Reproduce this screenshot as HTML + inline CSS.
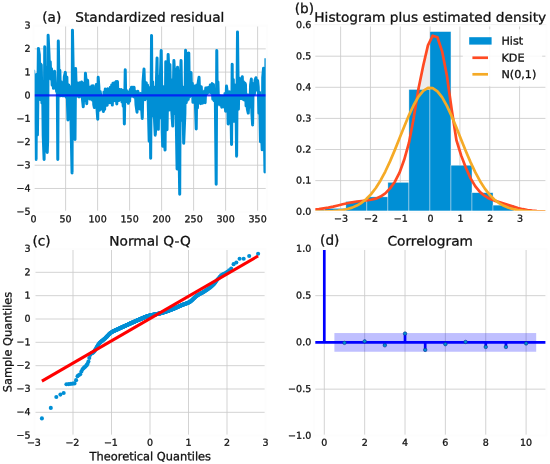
<!DOCTYPE html>
<html><head><meta charset="utf-8"><title>Diagnostics</title>
<style>html,body{margin:0;padding:0;background:#fff}svg{display:block}text{font-family:"DejaVu Sans", "Liberation Sans", sans-serif;fill:#111;stroke:#111;stroke-width:0.3px}</style>
</head><body>
<svg width="550" height="464" viewBox="0 0 550 464">
<rect width="550" height="464" fill="#fff"/>
<clipPath id="ca"><rect x="33.6" y="23.5" width="233.1" height="190.2"/></clipPath>
<path d="M65.6 25.5V211.7M97.6 25.5V211.7M129.6 25.5V211.7M161.6 25.5V211.7M193.6 25.5V211.7M225.6 25.5V211.7M257.6 25.5V211.7M33.6 188.48H266.7M33.6 165.21H266.7M33.6 141.94H266.7M33.6 118.67H266.7M33.6 95.4H266.7M33.6 72.13H266.7M33.6 48.86H266.7M33.6 25.59H266.7" stroke="#cbcbcb" stroke-width="0.85" fill="none"/>
<path d="M33.6 69.8 L34.24 118.67 L34.88 86.09 L35.52 123.32 L36.1 159.39 L36.54 74.46 L36.86 107.04 L37.12 76.78 L37.44 134.96 L38.4 48.39 L39.36 54.74 L40 99.41 L40.64 64.09 L41.28 65.14 L41.92 103.07 L42.56 81.91 L43.2 135.5 L44.1 159.39 L44.74 46.77 L45.63 150.55 L46.4 68.16 L47.23 152.41 L47.68 139.67 L48.13 35.36 L48.96 53.47 L49.6 70.13 L50.24 61.67 L50.88 79.12 L51.52 68.72 L52.16 85.26 L52.8 73.99 L53.44 88.32 L54.08 75.9 L54.59 71.2 L55.36 88.23 L56 84.01 L56.64 91.51 L57.28 84.33 L57.79 159.39 L58.3 40.95 L59.2 91.88 L59.84 70.32 L60.48 95.85 L61.12 81.67 L61.76 84.19 L62.4 95.76 L63.04 84.15 L63.68 95.87 L64.32 76.87 L65.34 72.36 L66.24 97.22 L66.88 77.06 L67.52 105.1 L67.97 120.07 L68.8 85.01 L69.44 106.23 L70.08 86.65 L70.72 104.59 L71.36 139.59 L72.06 172.89 L72.45 30.24 L73.28 75.55 L73.92 126.35 L74.56 72.41 L75.01 139.61 L75.58 68.41 L76.48 96.54 L77.12 82.8 L77.76 95.67 L78.4 85.75 L79.04 96.95 L79.68 82.83 L80.32 96.28 L80.96 84.11 L81.6 82.04 L82.24 97.16 L83.26 106.8 L84.16 82.98 L84.8 100.39 L85.44 73.29 L86.08 80.92 L86.72 103.78 L87.62 80.27 L88.64 98.35 L89.28 88.23 L89.92 99.1 L90.56 87.02 L91.2 99.15 L91.84 86.01 L92.48 100.21 L93.12 85.64 L93.76 104.7 L94.34 107.5 L95.04 87.66 L95.68 103.54 L96.32 84.48 L96.96 108.2 L97.73 119.14 L98.18 77.25 L98.88 86.75 L99.52 110.28 L100.16 91.5 L100.8 95.65 L101.44 109.1 L102.08 97.66 L102.72 107.27 L103.42 111.46 L104 91.89 L104.64 109.36 L105.28 89.07 L105.92 105.22 L106.56 90.81 L107.2 105.31 L107.84 88.7 L108.48 99.84 L109.12 89.51 L109.76 102.78 L110.4 87.15 L111.04 102.71 L111.68 85.07 L112.32 105.11 L112.96 83.33 L113.6 99.04 L114.24 82.94 L114.88 100.79 L115.52 82.75 L116.16 81.52 L116.8 104.05 L117.44 81.61 L118.08 98.98 L118.72 100.54 L119.36 89.55 L120 91.04 L120.64 99.59 L121.28 89.46 L121.92 101.9 L122.56 91.6 L123.2 106.22 L123.84 90.23 L124.35 124.02 L125.25 69.8 L125.76 101.65 L126.4 90.25 L127.04 100.24 L127.68 91.82 L128.32 103.37 L128.96 96.51 L129.6 101.12 L130.24 89.47 L130.88 96.35 L131.52 87.21 L132.16 94.8 L132.8 87.24 L133.44 96.56 L134.08 87.25 L134.72 97.32 L135.36 91.17 L136 104.7 L137.02 112.15 L137.92 91.31 L138.56 106.28 L139.2 94.62 L139.84 108.95 L140.48 93.4 L141.12 95.04 L141.76 110.25 L142.27 118.44 L143.04 81.59 L144 69.1 L144.96 99.71 L145.6 98.31 L146.24 82.63 L146.88 97.7 L147.52 85.05 L148.16 99.76 L149.18 141.24 L150.08 87.39 L150.66 158.23 L151.55 35.6 L152 116.04 L152.64 81.73 L153.28 115.15 L153.92 87.05 L154.56 120.85 L155.26 135.19 L155.84 125.42 L156.48 79.83 L157.06 57.94 L157.76 117.03 L158.34 129.37 L159.04 76.29 L159.68 117.92 L160.32 78.33 L161.22 50.49 L162.24 132.4 L162.69 146.13 L163.52 86.77 L164.16 136.55 L165.06 150.08 L165.76 61.66 L167.04 129.84 L168.13 54.44 L168.64 65.92 L169.28 109.9 L169.92 64.45 L170.56 102.52 L171.2 79.8 L171.84 112.29 L172.74 126.12 L173.89 60.5 L174.4 70.64 L175.04 113.71 L175.68 69 L176.32 122.95 L177.09 168.93 L177.54 67.24 L178.24 79.82 L178.88 140.21 L179.71 194.3 L180.16 86 L181.06 60.5 L182.08 120.29 L182.72 86.98 L183.68 143.34 L184.9 113.32 L185.6 50.26 L186.24 102.85 L186.82 55.38 L187.2 100.52 L187.58 53.51 L188.22 99.36 L188.8 53.05 L189.38 97.03 L190.4 95.04 L191.04 72.49 L191.68 95.79 L192.32 83.31 L192.96 102.33 L193.6 87.4 L194.24 101.87 L194.88 85.97 L195.52 107.86 L196.22 128.91 L196.8 84.89 L197.44 108.01 L198.08 83.55 L199.04 77.25 L200 103.13 L200.64 103.6 L201.28 86.79 L201.92 102.6 L202.56 103.06 L203.2 95.23 L203.84 100.88 L204.48 91.05 L205.12 102.73 L205.76 87.97 L206.4 88 L207.04 93.62 L207.68 87.69 L208.32 92.41 L208.96 87.32 L209.6 91.21 L210.24 85.09 L210.88 92.76 L211.52 85.9 L212.16 83.61 L212.8 99.23 L213.44 84.4 L214.08 100.79 L214.72 99.4 L215.36 102.24 L216.19 184.29 L216.77 50.49 L217.28 105.28 L217.92 81.81 L218.56 103.85 L219.2 103.58 L219.84 95.69 L220.48 105.05 L221.12 96.02 L221.76 107.15 L222.4 95.99 L223.04 105.07 L223.68 95.89 L224.32 107.21 L224.96 93.62 L225.6 111.14 L226.5 86.09 L227.52 94.37 L228.16 124.02 L228.8 118.48 L229.44 91.65 L230.08 122.22 L230.72 92.58 L231.55 144.5 L232.19 64.22 L232.64 116.59 L233.28 79.39 L233.92 121.14 L234.56 84.65 L235.2 118.2 L235.84 86.68 L236.61 156.13 L237.5 32.11 L238.4 109.17 L239.04 77.99 L239.68 96.53 L240.32 79.33 L240.96 98.58 L241.6 79.17 L242.3 76.78 L242.88 99.13 L243.52 81.8 L244.16 100.06 L244.8 82.88 L245.44 84.34 L246.08 106.04 L246.72 94.56 L247.36 109.17 L248.26 113.09 L249.28 94.8 L249.92 106.98 L250.56 84.99 L251.33 79.11 L251.84 112.61 L252.61 124.95 L253.12 83.71 L253.76 87.12 L254.4 94.25 L255.04 80.27 L255.94 77.71 L256.96 90.09 L257.6 80.54 L258.24 87.21 L258.88 113.2 L259.52 92.3 L260.48 141.71 L261.44 130.62 L262.21 149.85 L262.72 77.57 L263.55 68.17 L264 131.04 L264.32 130.31 L264.96 171.96 L265.92 58.17" stroke="#008fd5" stroke-width="3.0" fill="none" stroke-linejoin="round" clip-path="url(#ca)"/>
<path d="M33.6 95.4H266.7" stroke="#0000ff" stroke-opacity="0.72" stroke-width="2.3" fill="none"/>
<rect x="33.6" y="25.5" width="233.1" height="186.2" fill="none" stroke="#fdfdfd" stroke-width="2"/>
<text transform="translate(30.6 214.75) rotate(0.03)" font-size="9.5" text-anchor="end" >−5</text>
<text transform="translate(30.6 191.48) rotate(0.03)" font-size="9.5" text-anchor="end" >−4</text>
<text transform="translate(30.6 168.21) rotate(0.03)" font-size="9.5" text-anchor="end" >−3</text>
<text transform="translate(30.6 144.94) rotate(0.03)" font-size="9.5" text-anchor="end" >−2</text>
<text transform="translate(30.6 121.67) rotate(0.03)" font-size="9.5" text-anchor="end" >−1</text>
<text transform="translate(30.6 98.4) rotate(0.03)" font-size="9.5" text-anchor="end" >0</text>
<text transform="translate(30.6 75.13) rotate(0.03)" font-size="9.5" text-anchor="end" >1</text>
<text transform="translate(30.6 51.86) rotate(0.03)" font-size="9.5" text-anchor="end" >2</text>
<text transform="translate(30.6 28.59) rotate(0.03)" font-size="9.5" text-anchor="end" >3</text>
<text transform="translate(33.6 222.3) rotate(0.03)" font-size="9.5" text-anchor="middle" >0</text>
<text transform="translate(65.6 222.3) rotate(0.03)" font-size="9.5" text-anchor="middle" >50</text>
<text transform="translate(97.6 222.3) rotate(0.03)" font-size="9.5" text-anchor="middle" >100</text>
<text transform="translate(129.6 222.3) rotate(0.03)" font-size="9.5" text-anchor="middle" >150</text>
<text transform="translate(161.6 222.3) rotate(0.03)" font-size="9.5" text-anchor="middle" >200</text>
<text transform="translate(193.6 222.3) rotate(0.03)" font-size="9.5" text-anchor="middle" >250</text>
<text transform="translate(225.6 222.3) rotate(0.03)" font-size="9.5" text-anchor="middle" >300</text>
<text transform="translate(257.6 222.3) rotate(0.03)" font-size="9.5" text-anchor="middle" >350</text>
<text transform="translate(42.3 21.8) rotate(0.03)" font-size="13.6" text-anchor="start" >(a)</text>
<text transform="translate(149.8 21.8) rotate(0.03) scale(1.055 1)" font-size="13.0" text-anchor="middle" >Standardized residual</text>
<clipPath id="cb"><rect x="314.3" y="23.5" width="232.09999999999997" height="188.2"/></clipPath>
<path d="M340.61 25.5V211.7M370.44 25.5V211.7M400.27 25.5V211.7M430.1 25.5V211.7M459.93 25.5V211.7M489.76 25.5V211.7M519.59 25.5V211.7M314.3 211.7H546.4M314.3 180.6H546.4M314.3 149.5H546.4M314.3 118.4H546.4M314.3 87.3H546.4M314.3 56.2H546.4M314.3 25.1H546.4" stroke="#cbcbcb" stroke-width="0.85" fill="none"/>
<g clip-path="url(#cb)">
<path d="M418.17 89.48 L421.15 74.86 L424.13 60.86 L427.12 48.42 L429.95 41.27 L429.95 89.48Z" fill="#ececec"/>
<rect x="303.86" y="209.49" width="21.02" height="2.21" fill="#008fd5" stroke="#f0f0f0" stroke-width="0.4"/>
<rect x="324.87" y="208.37" width="21.02" height="3.33" fill="#008fd5" stroke="#f0f0f0" stroke-width="0.4"/>
<rect x="345.89" y="201.5" width="21.02" height="10.2" fill="#008fd5" stroke="#f0f0f0" stroke-width="0.4"/>
<rect x="366.91" y="196.9" width="21.02" height="14.8" fill="#008fd5" stroke="#f0f0f0" stroke-width="0.4"/>
<rect x="387.92" y="182.37" width="21.02" height="29.33" fill="#008fd5" stroke="#f0f0f0" stroke-width="0.4"/>
<rect x="408.94" y="89.48" width="21.02" height="122.22" fill="#008fd5" stroke="#f0f0f0" stroke-width="0.4"/>
<rect x="429.95" y="31.63" width="21.02" height="180.07" fill="#008fd5" stroke="#f0f0f0" stroke-width="0.4"/>
<rect x="450.97" y="165.21" width="21.02" height="46.49" fill="#008fd5" stroke="#f0f0f0" stroke-width="0.4"/>
<rect x="471.98" y="192.73" width="21.02" height="18.97" fill="#008fd5" stroke="#f0f0f0" stroke-width="0.4"/>
<rect x="493" y="205.11" width="21.02" height="6.59" fill="#008fd5" stroke="#f0f0f0" stroke-width="0.4"/>
<path d="M314.21 209.7 L318.95 209.11 L323.69 208.41 L328.43 207.61 L333.17 206.66 L337.91 205.48 L342.65 204.28 L347.39 203.24 L352.12 202.3 L356.86 201.52 L361.6 201.01 L366.34 200.53 L371.08 199.78 L375.82 198.67 L380.56 196.61 L385.3 193.43 L390.04 188.36 L394.78 181.95 L399.52 172.73 L404.26 159.56 L409 142.7 L413.74 117.64 L418.48 88.67 L423.21 65.69 L427.95 45.43 L432.69 35.7 L437.43 37.26 L442.17 51.57 L446.91 75.78 L451.65 109.3 L456.39 140.01 L461.13 155.39 L465.87 167.73 L470.61 178.41 L475.35 186.32 L480.09 192.09 L484.83 195.95 L489.57 198.75 L494.3 200.6 L499.04 202.06 L503.78 203.61 L508.52 205.13 L513.26 206.63 L518 208.08 L522.74 209.2 L527.48 210.1 L532.22 210.7 L536.96 211.12 L541.7 211.38 L546.44 211.55" stroke="#ff4a22" stroke-width="2.7" fill="none" stroke-linejoin="round"/>
<path d="M314.21 211.63 L318.95 211.58 L323.69 211.49 L328.43 211.33 L333.17 211.07 L337.91 210.65 L342.65 210.01 L347.39 209.04 L352.12 207.63 L356.86 205.61 L361.6 202.81 L366.34 199.06 L371.08 194.17 L375.82 188 L380.56 180.45 L385.3 171.53 L390.04 161.35 L394.78 150.15 L399.52 138.34 L404.26 126.45 L409 115.1 L413.74 104.96 L418.48 96.7 L423.21 90.89 L427.95 87.95 L432.69 88.1 L437.43 91.32 L442.17 97.38 L446.91 105.85 L451.65 116.13 L456.39 127.56 L461.13 139.47 L465.87 151.24 L470.61 162.36 L475.35 172.43 L480.09 181.23 L484.83 188.64 L489.57 194.69 L494.3 199.46 L499.04 203.12 L503.78 205.83 L508.52 207.78 L513.26 209.15 L518 210.09 L522.74 210.7 L527.48 211.1 L532.22 211.35 L536.96 211.5 L541.7 211.59 L546.44 211.64" stroke="#f5aa26" stroke-width="2.7" fill="none" stroke-linejoin="round"/>
</g>
<rect x="314.3" y="25.5" width="232.1" height="186.2" fill="none" stroke="#fdfdfd" stroke-width="2"/>
<rect x="462.8" y="29.3" width="79.4" height="56.9" rx="2" fill="#fff" fill-opacity="0.85"/>
<rect x="469.2" y="37.2" width="22.4" height="7.4" fill="#008fd5"/>
<path d="M472.4 57.75H488" stroke="#ff4a22" stroke-width="2.7"/>
<path d="M472.4 74.3H488" stroke="#f5aa26" stroke-width="2.7"/>
<text transform="translate(501.4 44.6) rotate(0.03) scale(1.04 1)" font-size="10.8" text-anchor="start" >Hist</text>
<text transform="translate(501.4 61.4) rotate(0.03) scale(1.04 1)" font-size="10.8" text-anchor="start" >KDE</text>
<text transform="translate(501.4 78.1) rotate(0.03) scale(1.04 1)" font-size="10.8" text-anchor="start" >N(0,1)</text>
<text transform="translate(311.2 214.7) rotate(0.03)" font-size="9.5" text-anchor="end" >0.0</text>
<text transform="translate(311.2 183.6) rotate(0.03)" font-size="9.5" text-anchor="end" >0.1</text>
<text transform="translate(311.2 152.5) rotate(0.03)" font-size="9.5" text-anchor="end" >0.2</text>
<text transform="translate(311.2 121.4) rotate(0.03)" font-size="9.5" text-anchor="end" >0.3</text>
<text transform="translate(311.2 90.3) rotate(0.03)" font-size="9.5" text-anchor="end" >0.4</text>
<text transform="translate(311.2 59.2) rotate(0.03)" font-size="9.5" text-anchor="end" >0.5</text>
<text transform="translate(311.2 28.1) rotate(0.03)" font-size="9.5" text-anchor="end" >0.6</text>
<text transform="translate(341.11 221.8) rotate(0.03)" font-size="9.5" text-anchor="middle" >−3</text>
<text transform="translate(370.94 221.8) rotate(0.03)" font-size="9.5" text-anchor="middle" >−2</text>
<text transform="translate(400.77 221.8) rotate(0.03)" font-size="9.5" text-anchor="middle" >−1</text>
<text transform="translate(430.6 221.8) rotate(0.03)" font-size="9.5" text-anchor="middle" >0</text>
<text transform="translate(460.43 221.8) rotate(0.03)" font-size="9.5" text-anchor="middle" >1</text>
<text transform="translate(490.26 221.8) rotate(0.03)" font-size="9.5" text-anchor="middle" >2</text>
<text transform="translate(520.09 221.8) rotate(0.03)" font-size="9.5" text-anchor="middle" >3</text>
<text transform="translate(294.7 12.9) rotate(0.03)" font-size="13.6" text-anchor="start" >(b)</text>
<text transform="translate(430.2 21.7) rotate(0.03) scale(1.055 1)" font-size="13.0" text-anchor="middle" >Histogram plus estimated density</text>
<path d="M73 249V435.6M111.5 249V435.6M150 249V435.6M188.5 249V435.6M227 249V435.6M34.5 412.32H265.6M34.5 388.99H265.6M34.5 365.66H265.6M34.5 342.33H265.6M34.5 319H265.6M34.5 295.67H265.6M34.5 272.34H265.6M34.5 249.01H265.6" stroke="#cbcbcb" stroke-width="0.85" fill="none"/>
<g fill="#008fd5">
<circle cx="41.9" cy="418.39" r="2.05"/>
<circle cx="50.8" cy="407.89" r="2.05"/>
<circle cx="56.32" cy="397.04" r="2.05"/>
<circle cx="60.4" cy="394.59" r="2.05"/>
<circle cx="63.67" cy="392.96" r="2.05"/>
<circle cx="66.41" cy="384.32" r="2.05"/>
<circle cx="68.79" cy="384.09" r="2.05"/>
<circle cx="70.89" cy="383.86" r="2.05"/>
<circle cx="72.78" cy="383.62" r="2.05"/>
<circle cx="74.5" cy="383.39" r="2.05"/>
<circle cx="76.08" cy="380.14" r="2.05"/>
<circle cx="77.55" cy="376.14" r="2.05"/>
<circle cx="78.91" cy="375.01" r="2.05"/>
<circle cx="80.2" cy="374.29" r="2.05"/>
<circle cx="81.41" cy="371.62" r="2.05"/>
<circle cx="82.55" cy="369.21" r="2.05"/>
<circle cx="83.64" cy="368.12" r="2.05"/>
<circle cx="84.68" cy="367.16" r="2.05"/>
<circle cx="85.67" cy="366.21" r="2.05"/>
<circle cx="86.63" cy="365.15" r="2.05"/>
<circle cx="87.54" cy="363.82" r="2.05"/>
<circle cx="88.42" cy="361.54" r="2.05"/>
<circle cx="89.27" cy="358.05" r="2.05"/>
<circle cx="90.09" cy="354.94" r="2.05"/>
<circle cx="90.89" cy="353.84" r="2.05"/>
<circle cx="91.66" cy="353.29" r="2.05"/>
<circle cx="92.41" cy="352.9" r="2.05"/>
<circle cx="93.13" cy="352.45" r="2.05"/>
<circle cx="93.84" cy="351.8" r="2.05"/>
<circle cx="94.53" cy="350.92" r="2.05"/>
<circle cx="95.2" cy="349.9" r="2.05"/>
<circle cx="95.85" cy="348.8" r="2.05"/>
<circle cx="96.49" cy="347.67" r="2.05"/>
<circle cx="97.12" cy="346.57" r="2.05"/>
<circle cx="97.73" cy="345.54" r="2.05"/>
<circle cx="98.33" cy="344.61" r="2.05"/>
<circle cx="98.91" cy="343.81" r="2.05"/>
<circle cx="99.49" cy="343.16" r="2.05"/>
<circle cx="100.05" cy="342.59" r="2.05"/>
<circle cx="100.61" cy="342.06" r="2.05"/>
<circle cx="101.15" cy="341.58" r="2.05"/>
<circle cx="101.68" cy="341.14" r="2.05"/>
<circle cx="102.21" cy="340.71" r="2.05"/>
<circle cx="102.72" cy="340.3" r="2.05"/>
<circle cx="103.23" cy="339.9" r="2.05"/>
<circle cx="103.73" cy="339.51" r="2.05"/>
<circle cx="104.22" cy="339.1" r="2.05"/>
<circle cx="104.71" cy="338.7" r="2.05"/>
<circle cx="105.18" cy="338.27" r="2.05"/>
<circle cx="105.65" cy="337.83" r="2.05"/>
<circle cx="106.12" cy="337.37" r="2.05"/>
<circle cx="106.57" cy="336.89" r="2.05"/>
<circle cx="107.03" cy="336.41" r="2.05"/>
<circle cx="107.47" cy="335.93" r="2.05"/>
<circle cx="107.91" cy="335.45" r="2.05"/>
<circle cx="108.35" cy="334.98" r="2.05"/>
<circle cx="108.78" cy="334.53" r="2.05"/>
<circle cx="109.2" cy="334.1" r="2.05"/>
<circle cx="109.62" cy="333.7" r="2.05"/>
<circle cx="110.04" cy="333.33" r="2.05"/>
<circle cx="110.45" cy="332.99" r="2.05"/>
<circle cx="110.85" cy="332.7" r="2.05"/>
<circle cx="111.25" cy="332.43" r="2.05"/>
<circle cx="111.65" cy="332.18" r="2.05"/>
<circle cx="112.04" cy="331.95" r="2.05"/>
<circle cx="112.43" cy="331.73" r="2.05"/>
<circle cx="112.82" cy="331.52" r="2.05"/>
<circle cx="113.2" cy="331.32" r="2.05"/>
<circle cx="113.58" cy="331.13" r="2.05"/>
<circle cx="113.95" cy="330.95" r="2.05"/>
<circle cx="114.32" cy="330.77" r="2.05"/>
<circle cx="114.69" cy="330.6" r="2.05"/>
<circle cx="115.06" cy="330.44" r="2.05"/>
<circle cx="115.42" cy="330.28" r="2.05"/>
<circle cx="115.78" cy="330.12" r="2.05"/>
<circle cx="116.13" cy="329.96" r="2.05"/>
<circle cx="116.49" cy="329.81" r="2.05"/>
<circle cx="116.84" cy="329.65" r="2.05"/>
<circle cx="117.18" cy="329.5" r="2.05"/>
<circle cx="117.53" cy="329.34" r="2.05"/>
<circle cx="117.87" cy="329.19" r="2.05"/>
<circle cx="118.21" cy="329.03" r="2.05"/>
<circle cx="118.55" cy="328.87" r="2.05"/>
<circle cx="118.88" cy="328.71" r="2.05"/>
<circle cx="119.22" cy="328.55" r="2.05"/>
<circle cx="119.55" cy="328.4" r="2.05"/>
<circle cx="119.87" cy="328.25" r="2.05"/>
<circle cx="120.2" cy="328.09" r="2.05"/>
<circle cx="120.52" cy="327.94" r="2.05"/>
<circle cx="120.84" cy="327.8" r="2.05"/>
<circle cx="121.16" cy="327.65" r="2.05"/>
<circle cx="121.48" cy="327.51" r="2.05"/>
<circle cx="121.8" cy="327.36" r="2.05"/>
<circle cx="122.11" cy="327.22" r="2.05"/>
<circle cx="122.42" cy="327.08" r="2.05"/>
<circle cx="122.73" cy="326.94" r="2.05"/>
<circle cx="123.04" cy="326.8" r="2.05"/>
<circle cx="123.35" cy="326.66" r="2.05"/>
<circle cx="123.65" cy="326.52" r="2.05"/>
<circle cx="123.96" cy="326.39" r="2.05"/>
<circle cx="124.26" cy="326.25" r="2.05"/>
<circle cx="124.56" cy="326.12" r="2.05"/>
<circle cx="124.86" cy="325.98" r="2.05"/>
<circle cx="125.15" cy="325.85" r="2.05"/>
<circle cx="125.45" cy="325.72" r="2.05"/>
<circle cx="125.74" cy="325.59" r="2.05"/>
<circle cx="126.04" cy="325.46" r="2.05"/>
<circle cx="126.33" cy="325.33" r="2.05"/>
<circle cx="126.62" cy="325.2" r="2.05"/>
<circle cx="126.91" cy="325.07" r="2.05"/>
<circle cx="127.19" cy="324.94" r="2.05"/>
<circle cx="127.48" cy="324.81" r="2.05"/>
<circle cx="127.77" cy="324.68" r="2.05"/>
<circle cx="128.05" cy="324.55" r="2.05"/>
<circle cx="128.33" cy="324.43" r="2.05"/>
<circle cx="128.61" cy="324.3" r="2.05"/>
<circle cx="128.89" cy="324.17" r="2.05"/>
<circle cx="129.17" cy="324.05" r="2.05"/>
<circle cx="129.45" cy="323.92" r="2.05"/>
<circle cx="129.73" cy="323.79" r="2.05"/>
<circle cx="130" cy="323.67" r="2.05"/>
<circle cx="130.28" cy="323.54" r="2.05"/>
<circle cx="130.55" cy="323.42" r="2.05"/>
<circle cx="130.83" cy="323.29" r="2.05"/>
<circle cx="131.1" cy="323.17" r="2.05"/>
<circle cx="131.37" cy="323.04" r="2.05"/>
<circle cx="131.64" cy="322.92" r="2.05"/>
<circle cx="131.91" cy="322.8" r="2.05"/>
<circle cx="132.18" cy="322.67" r="2.05"/>
<circle cx="132.44" cy="322.55" r="2.05"/>
<circle cx="132.71" cy="322.43" r="2.05"/>
<circle cx="132.98" cy="322.31" r="2.05"/>
<circle cx="133.24" cy="322.19" r="2.05"/>
<circle cx="133.5" cy="322.07" r="2.05"/>
<circle cx="133.77" cy="321.95" r="2.05"/>
<circle cx="134.03" cy="321.83" r="2.05"/>
<circle cx="134.29" cy="321.71" r="2.05"/>
<circle cx="134.55" cy="321.6" r="2.05"/>
<circle cx="134.81" cy="321.48" r="2.05"/>
<circle cx="135.07" cy="321.36" r="2.05"/>
<circle cx="135.33" cy="321.25" r="2.05"/>
<circle cx="135.59" cy="321.14" r="2.05"/>
<circle cx="135.85" cy="321.02" r="2.05"/>
<circle cx="136.11" cy="320.91" r="2.05"/>
<circle cx="136.36" cy="320.8" r="2.05"/>
<circle cx="136.62" cy="320.69" r="2.05"/>
<circle cx="136.87" cy="320.57" r="2.05"/>
<circle cx="137.13" cy="320.47" r="2.05"/>
<circle cx="137.38" cy="320.36" r="2.05"/>
<circle cx="137.64" cy="320.25" r="2.05"/>
<circle cx="137.89" cy="320.14" r="2.05"/>
<circle cx="138.14" cy="320.03" r="2.05"/>
<circle cx="138.4" cy="319.93" r="2.05"/>
<circle cx="138.65" cy="319.82" r="2.05"/>
<circle cx="138.9" cy="319.72" r="2.05"/>
<circle cx="139.15" cy="319.61" r="2.05"/>
<circle cx="139.4" cy="319.5" r="2.05"/>
<circle cx="139.65" cy="319.4" r="2.05"/>
<circle cx="139.9" cy="319.29" r="2.05"/>
<circle cx="140.15" cy="319.18" r="2.05"/>
<circle cx="140.4" cy="319.08" r="2.05"/>
<circle cx="140.64" cy="318.97" r="2.05"/>
<circle cx="140.89" cy="318.86" r="2.05"/>
<circle cx="141.14" cy="318.75" r="2.05"/>
<circle cx="141.39" cy="318.65" r="2.05"/>
<circle cx="141.63" cy="318.54" r="2.05"/>
<circle cx="141.88" cy="318.44" r="2.05"/>
<circle cx="142.12" cy="318.33" r="2.05"/>
<circle cx="142.37" cy="318.23" r="2.05"/>
<circle cx="142.61" cy="318.12" r="2.05"/>
<circle cx="142.86" cy="318.02" r="2.05"/>
<circle cx="143.1" cy="317.92" r="2.05"/>
<circle cx="143.35" cy="317.81" r="2.05"/>
<circle cx="143.59" cy="317.71" r="2.05"/>
<circle cx="143.84" cy="317.61" r="2.05"/>
<circle cx="144.08" cy="317.51" r="2.05"/>
<circle cx="144.32" cy="317.41" r="2.05"/>
<circle cx="144.57" cy="317.32" r="2.05"/>
<circle cx="144.81" cy="317.22" r="2.05"/>
<circle cx="145.05" cy="317.12" r="2.05"/>
<circle cx="145.3" cy="317.03" r="2.05"/>
<circle cx="145.54" cy="316.94" r="2.05"/>
<circle cx="145.78" cy="316.84" r="2.05"/>
<circle cx="146.02" cy="316.75" r="2.05"/>
<circle cx="146.26" cy="316.66" r="2.05"/>
<circle cx="146.51" cy="316.58" r="2.05"/>
<circle cx="146.75" cy="316.49" r="2.05"/>
<circle cx="146.99" cy="316.41" r="2.05"/>
<circle cx="147.23" cy="316.32" r="2.05"/>
<circle cx="147.47" cy="316.24" r="2.05"/>
<circle cx="147.71" cy="316.16" r="2.05"/>
<circle cx="147.95" cy="316.08" r="2.05"/>
<circle cx="148.19" cy="316.01" r="2.05"/>
<circle cx="148.44" cy="315.93" r="2.05"/>
<circle cx="148.68" cy="315.86" r="2.05"/>
<circle cx="148.92" cy="315.79" r="2.05"/>
<circle cx="149.16" cy="315.72" r="2.05"/>
<circle cx="149.4" cy="315.66" r="2.05"/>
<circle cx="149.64" cy="315.59" r="2.05"/>
<circle cx="149.88" cy="315.53" r="2.05"/>
<circle cx="150.12" cy="315.47" r="2.05"/>
<circle cx="150.36" cy="315.41" r="2.05"/>
<circle cx="150.6" cy="315.35" r="2.05"/>
<circle cx="150.84" cy="315.29" r="2.05"/>
<circle cx="151.08" cy="315.23" r="2.05"/>
<circle cx="151.32" cy="315.18" r="2.05"/>
<circle cx="151.56" cy="315.12" r="2.05"/>
<circle cx="151.81" cy="315.07" r="2.05"/>
<circle cx="152.05" cy="315.02" r="2.05"/>
<circle cx="152.29" cy="314.97" r="2.05"/>
<circle cx="152.53" cy="314.92" r="2.05"/>
<circle cx="152.77" cy="314.87" r="2.05"/>
<circle cx="153.01" cy="314.82" r="2.05"/>
<circle cx="153.25" cy="314.77" r="2.05"/>
<circle cx="153.49" cy="314.72" r="2.05"/>
<circle cx="153.74" cy="314.67" r="2.05"/>
<circle cx="153.98" cy="314.63" r="2.05"/>
<circle cx="154.22" cy="314.58" r="2.05"/>
<circle cx="154.46" cy="314.53" r="2.05"/>
<circle cx="154.7" cy="314.49" r="2.05"/>
<circle cx="154.95" cy="314.44" r="2.05"/>
<circle cx="155.19" cy="314.39" r="2.05"/>
<circle cx="155.43" cy="314.35" r="2.05"/>
<circle cx="155.68" cy="314.3" r="2.05"/>
<circle cx="155.92" cy="314.26" r="2.05"/>
<circle cx="156.16" cy="314.21" r="2.05"/>
<circle cx="156.41" cy="314.16" r="2.05"/>
<circle cx="156.65" cy="314.12" r="2.05"/>
<circle cx="156.9" cy="314.07" r="2.05"/>
<circle cx="157.14" cy="314.02" r="2.05"/>
<circle cx="157.39" cy="313.97" r="2.05"/>
<circle cx="157.63" cy="313.92" r="2.05"/>
<circle cx="157.88" cy="313.87" r="2.05"/>
<circle cx="158.12" cy="313.82" r="2.05"/>
<circle cx="158.37" cy="313.77" r="2.05"/>
<circle cx="158.61" cy="313.71" r="2.05"/>
<circle cx="158.86" cy="313.66" r="2.05"/>
<circle cx="159.11" cy="313.6" r="2.05"/>
<circle cx="159.36" cy="313.55" r="2.05"/>
<circle cx="159.6" cy="313.49" r="2.05"/>
<circle cx="159.85" cy="313.43" r="2.05"/>
<circle cx="160.1" cy="313.37" r="2.05"/>
<circle cx="160.35" cy="313.31" r="2.05"/>
<circle cx="160.6" cy="313.24" r="2.05"/>
<circle cx="160.85" cy="313.18" r="2.05"/>
<circle cx="161.1" cy="313.11" r="2.05"/>
<circle cx="161.35" cy="313.04" r="2.05"/>
<circle cx="161.6" cy="312.97" r="2.05"/>
<circle cx="161.86" cy="312.9" r="2.05"/>
<circle cx="162.11" cy="312.83" r="2.05"/>
<circle cx="162.36" cy="312.76" r="2.05"/>
<circle cx="162.62" cy="312.68" r="2.05"/>
<circle cx="162.87" cy="312.6" r="2.05"/>
<circle cx="163.13" cy="312.53" r="2.05"/>
<circle cx="163.38" cy="312.45" r="2.05"/>
<circle cx="163.64" cy="312.37" r="2.05"/>
<circle cx="163.89" cy="312.29" r="2.05"/>
<circle cx="164.15" cy="312.2" r="2.05"/>
<circle cx="164.41" cy="312.12" r="2.05"/>
<circle cx="164.67" cy="312.03" r="2.05"/>
<circle cx="164.93" cy="311.95" r="2.05"/>
<circle cx="165.19" cy="311.86" r="2.05"/>
<circle cx="165.45" cy="311.77" r="2.05"/>
<circle cx="165.71" cy="311.68" r="2.05"/>
<circle cx="165.97" cy="311.59" r="2.05"/>
<circle cx="166.23" cy="311.5" r="2.05"/>
<circle cx="166.5" cy="311.41" r="2.05"/>
<circle cx="166.76" cy="311.32" r="2.05"/>
<circle cx="167.02" cy="311.22" r="2.05"/>
<circle cx="167.29" cy="311.13" r="2.05"/>
<circle cx="167.56" cy="311.03" r="2.05"/>
<circle cx="167.82" cy="310.93" r="2.05"/>
<circle cx="168.09" cy="310.84" r="2.05"/>
<circle cx="168.36" cy="310.74" r="2.05"/>
<circle cx="168.63" cy="310.64" r="2.05"/>
<circle cx="168.9" cy="310.54" r="2.05"/>
<circle cx="169.17" cy="310.44" r="2.05"/>
<circle cx="169.45" cy="310.33" r="2.05"/>
<circle cx="169.72" cy="310.23" r="2.05"/>
<circle cx="170" cy="310.13" r="2.05"/>
<circle cx="170.27" cy="310.02" r="2.05"/>
<circle cx="170.55" cy="309.92" r="2.05"/>
<circle cx="170.83" cy="309.81" r="2.05"/>
<circle cx="171.11" cy="309.71" r="2.05"/>
<circle cx="171.39" cy="309.6" r="2.05"/>
<circle cx="171.67" cy="309.5" r="2.05"/>
<circle cx="171.95" cy="309.39" r="2.05"/>
<circle cx="172.23" cy="309.28" r="2.05"/>
<circle cx="172.52" cy="309.17" r="2.05"/>
<circle cx="172.81" cy="309.05" r="2.05"/>
<circle cx="173.09" cy="308.94" r="2.05"/>
<circle cx="173.38" cy="308.82" r="2.05"/>
<circle cx="173.67" cy="308.7" r="2.05"/>
<circle cx="173.96" cy="308.58" r="2.05"/>
<circle cx="174.26" cy="308.46" r="2.05"/>
<circle cx="174.55" cy="308.33" r="2.05"/>
<circle cx="174.85" cy="308.21" r="2.05"/>
<circle cx="175.14" cy="308.08" r="2.05"/>
<circle cx="175.44" cy="307.95" r="2.05"/>
<circle cx="175.74" cy="307.82" r="2.05"/>
<circle cx="176.04" cy="307.69" r="2.05"/>
<circle cx="176.35" cy="307.55" r="2.05"/>
<circle cx="176.65" cy="307.42" r="2.05"/>
<circle cx="176.96" cy="307.28" r="2.05"/>
<circle cx="177.27" cy="307.14" r="2.05"/>
<circle cx="177.58" cy="307.01" r="2.05"/>
<circle cx="177.89" cy="306.87" r="2.05"/>
<circle cx="178.2" cy="306.73" r="2.05"/>
<circle cx="178.52" cy="306.59" r="2.05"/>
<circle cx="178.84" cy="306.44" r="2.05"/>
<circle cx="179.16" cy="306.3" r="2.05"/>
<circle cx="179.48" cy="306.16" r="2.05"/>
<circle cx="179.8" cy="306.02" r="2.05"/>
<circle cx="180.13" cy="305.87" r="2.05"/>
<circle cx="180.45" cy="305.73" r="2.05"/>
<circle cx="180.78" cy="305.59" r="2.05"/>
<circle cx="181.12" cy="305.44" r="2.05"/>
<circle cx="181.45" cy="305.3" r="2.05"/>
<circle cx="181.79" cy="305.16" r="2.05"/>
<circle cx="182.13" cy="305.01" r="2.05"/>
<circle cx="182.47" cy="304.87" r="2.05"/>
<circle cx="182.82" cy="304.73" r="2.05"/>
<circle cx="183.16" cy="304.59" r="2.05"/>
<circle cx="183.51" cy="304.46" r="2.05"/>
<circle cx="183.87" cy="304.33" r="2.05"/>
<circle cx="184.22" cy="304.2" r="2.05"/>
<circle cx="184.58" cy="304.08" r="2.05"/>
<circle cx="184.94" cy="303.95" r="2.05"/>
<circle cx="185.31" cy="303.83" r="2.05"/>
<circle cx="185.68" cy="303.7" r="2.05"/>
<circle cx="186.05" cy="303.57" r="2.05"/>
<circle cx="186.42" cy="303.43" r="2.05"/>
<circle cx="186.8" cy="303.29" r="2.05"/>
<circle cx="187.18" cy="303.15" r="2.05"/>
<circle cx="187.57" cy="302.99" r="2.05"/>
<circle cx="187.96" cy="302.83" r="2.05"/>
<circle cx="188.35" cy="302.66" r="2.05"/>
<circle cx="188.75" cy="302.47" r="2.05"/>
<circle cx="189.15" cy="302.27" r="2.05"/>
<circle cx="189.55" cy="302.04" r="2.05"/>
<circle cx="189.96" cy="301.79" r="2.05"/>
<circle cx="190.38" cy="301.5" r="2.05"/>
<circle cx="190.8" cy="301.18" r="2.05"/>
<circle cx="191.22" cy="300.83" r="2.05"/>
<circle cx="191.65" cy="300.46" r="2.05"/>
<circle cx="192.09" cy="300.06" r="2.05"/>
<circle cx="192.53" cy="299.65" r="2.05"/>
<circle cx="192.97" cy="299.22" r="2.05"/>
<circle cx="193.43" cy="298.78" r="2.05"/>
<circle cx="193.88" cy="298.34" r="2.05"/>
<circle cx="194.35" cy="297.89" r="2.05"/>
<circle cx="194.82" cy="297.45" r="2.05"/>
<circle cx="195.29" cy="297.01" r="2.05"/>
<circle cx="195.78" cy="296.59" r="2.05"/>
<circle cx="196.27" cy="296.18" r="2.05"/>
<circle cx="196.77" cy="295.81" r="2.05"/>
<circle cx="197.28" cy="295.46" r="2.05"/>
<circle cx="197.79" cy="295.13" r="2.05"/>
<circle cx="198.32" cy="294.82" r="2.05"/>
<circle cx="198.85" cy="294.51" r="2.05"/>
<circle cx="199.39" cy="294.2" r="2.05"/>
<circle cx="199.95" cy="293.91" r="2.05"/>
<circle cx="200.51" cy="293.61" r="2.05"/>
<circle cx="201.09" cy="293.31" r="2.05"/>
<circle cx="201.67" cy="293" r="2.05"/>
<circle cx="202.27" cy="292.68" r="2.05"/>
<circle cx="202.88" cy="292.35" r="2.05"/>
<circle cx="203.51" cy="291.99" r="2.05"/>
<circle cx="204.15" cy="291.61" r="2.05"/>
<circle cx="204.8" cy="291.19" r="2.05"/>
<circle cx="205.47" cy="290.76" r="2.05"/>
<circle cx="206.16" cy="290.32" r="2.05"/>
<circle cx="206.87" cy="289.85" r="2.05"/>
<circle cx="207.59" cy="289.37" r="2.05"/>
<circle cx="208.34" cy="288.85" r="2.05"/>
<circle cx="209.11" cy="288.3" r="2.05"/>
<circle cx="209.91" cy="287.71" r="2.05"/>
<circle cx="210.73" cy="287.07" r="2.05"/>
<circle cx="211.58" cy="286.37" r="2.05"/>
<circle cx="212.46" cy="285.6" r="2.05"/>
<circle cx="213.37" cy="284.74" r="2.05"/>
<circle cx="214.33" cy="283.68" r="2.05"/>
<circle cx="215.32" cy="282.39" r="2.05"/>
<circle cx="216.36" cy="280.98" r="2.05"/>
<circle cx="217.45" cy="279.57" r="2.05"/>
<circle cx="218.59" cy="278.2" r="2.05"/>
<circle cx="219.8" cy="276.72" r="2.05"/>
<circle cx="221.09" cy="275.36" r="2.05"/>
<circle cx="222.45" cy="274.43" r="2.05"/>
<circle cx="223.92" cy="273.86" r="2.05"/>
<circle cx="225.5" cy="273.16" r="2.05"/>
<circle cx="227.22" cy="271.86" r="2.05"/>
<circle cx="229.11" cy="270.25" r="2.05"/>
<circle cx="231.21" cy="268.61" r="2.05"/>
<circle cx="233.59" cy="264.17" r="2.05"/>
<circle cx="236.33" cy="262.54" r="2.05"/>
<circle cx="239.6" cy="258.81" r="2.05"/>
<circle cx="243.68" cy="258.69" r="2.05"/>
<circle cx="249.2" cy="256.01" r="2.05"/>
<circle cx="258.1" cy="253.68" r="2.05"/>
</g>
<path d="M41.9 381.09L258.1 255.97" stroke="#ff0000" stroke-width="3.0" fill="none"/>
<rect x="34.5" y="249" width="231.1" height="186.6" fill="none" stroke="#fdfdfd" stroke-width="2"/>
<text transform="translate(30.6 438.45) rotate(0.03)" font-size="9.5" text-anchor="end" >−5</text>
<text transform="translate(30.6 415.12) rotate(0.03)" font-size="9.5" text-anchor="end" >−4</text>
<text transform="translate(30.6 391.79) rotate(0.03)" font-size="9.5" text-anchor="end" >−3</text>
<text transform="translate(30.6 368.46) rotate(0.03)" font-size="9.5" text-anchor="end" >−2</text>
<text transform="translate(30.6 345.13) rotate(0.03)" font-size="9.5" text-anchor="end" >−1</text>
<text transform="translate(30.6 321.8) rotate(0.03)" font-size="9.5" text-anchor="end" >0</text>
<text transform="translate(30.6 298.47) rotate(0.03)" font-size="9.5" text-anchor="end" >1</text>
<text transform="translate(30.6 275.14) rotate(0.03)" font-size="9.5" text-anchor="end" >2</text>
<text transform="translate(30.6 251.81) rotate(0.03)" font-size="9.5" text-anchor="end" >3</text>
<text transform="translate(33.9 445.7) rotate(0.03)" font-size="9.5" text-anchor="middle" >−3</text>
<text transform="translate(72.4 445.7) rotate(0.03)" font-size="9.5" text-anchor="middle" >−2</text>
<text transform="translate(110.9 445.7) rotate(0.03)" font-size="9.5" text-anchor="middle" >−1</text>
<text transform="translate(150 445.7) rotate(0.03)" font-size="9.5" text-anchor="middle" >0</text>
<text transform="translate(188.5 445.7) rotate(0.03)" font-size="9.5" text-anchor="middle" >1</text>
<text transform="translate(227 445.7) rotate(0.03)" font-size="9.5" text-anchor="middle" >2</text>
<text transform="translate(265.5 445.7) rotate(0.03)" font-size="9.5" text-anchor="middle" >3</text>
<text transform="translate(32.4 245.4) rotate(0.03)" font-size="13.6" text-anchor="start" >(c)</text>
<text transform="translate(150 245.4) rotate(0.03) scale(1.055 1)" font-size="13.0" text-anchor="middle" >Normal Q-Q</text>
<text transform="translate(150.3 460.3) rotate(0.03)" font-size="11.4" text-anchor="middle" >Theoretical Quantiles</text>
<text transform="translate(11.4 342.0) rotate(-90.03)" font-size="11.4" text-anchor="middle">Sample Quantiles</text>
<path d="M324.3 249V435.6M364.66 249V435.6M405.02 249V435.6M445.38 249V435.6M485.74 249V435.6M526.1 249V435.6M314.3 389.15H546.4M314.3 295.65H546.4M314.3 248.9H546.4" stroke="#cbcbcb" stroke-width="0.85" fill="none"/>
<rect x="334.39" y="333.05" width="201.8" height="18.7" fill="#0000ff" fill-opacity="0.25"/>
<path d="M324.3 342.4V248.9M344.48 342.4V342.87M364.66 342.4V341.37M384.84 342.4V345.3M405.02 342.4V333.52M425.2 342.4V349.88M445.38 342.4V344.18M465.56 342.4V341.93M485.74 342.4V346.98M505.92 342.4V346.98M526.1 342.4V343.43" stroke="#0000ff" stroke-width="2.7" fill="none"/>
<path d="M314.3 342.4H546.4" stroke="#0000ff" stroke-width="2.6" fill="none"/>
<g fill="#008fd5" stroke="#0b2f8f" stroke-width="0.6">
<circle cx="344.48" cy="342.87" r="1.75"/>
<circle cx="364.66" cy="341.37" r="1.75"/>
<circle cx="384.84" cy="345.3" r="1.75"/>
<circle cx="405.02" cy="333.52" r="1.75"/>
<circle cx="425.2" cy="349.88" r="1.75"/>
<circle cx="445.38" cy="344.18" r="1.75"/>
<circle cx="465.56" cy="341.93" r="1.75"/>
<circle cx="485.74" cy="346.98" r="1.75"/>
<circle cx="505.92" cy="346.98" r="1.75"/>
<circle cx="526.1" cy="343.43" r="1.75"/>
</g>
<rect x="314.3" y="249" width="232.1" height="186.6" fill="none" stroke="#fdfdfd" stroke-width="2"/>
<text transform="translate(311.2 438.7) rotate(0.03)" font-size="9.5" text-anchor="end" >−1.0</text>
<text transform="translate(311.2 391.95) rotate(0.03)" font-size="9.5" text-anchor="end" >−0.5</text>
<text transform="translate(311.2 345.2) rotate(0.03)" font-size="9.5" text-anchor="end" >0.0</text>
<text transform="translate(311.2 298.45) rotate(0.03)" font-size="9.5" text-anchor="end" >0.5</text>
<text transform="translate(311.2 251.7) rotate(0.03)" font-size="9.5" text-anchor="end" >1.0</text>
<text transform="translate(324.3 445.7) rotate(0.03)" font-size="9.5" text-anchor="middle" >0</text>
<text transform="translate(364.66 445.7) rotate(0.03)" font-size="9.5" text-anchor="middle" >2</text>
<text transform="translate(405.02 445.7) rotate(0.03)" font-size="9.5" text-anchor="middle" >4</text>
<text transform="translate(445.38 445.7) rotate(0.03)" font-size="9.5" text-anchor="middle" >6</text>
<text transform="translate(485.74 445.7) rotate(0.03)" font-size="9.5" text-anchor="middle" >8</text>
<text transform="translate(526.1 445.7) rotate(0.03)" font-size="9.5" text-anchor="middle" >10</text>
<text transform="translate(320.1 244.7) rotate(0.03)" font-size="13.6" text-anchor="start" >(d)</text>
<text transform="translate(430.2 245.4) rotate(0.03) scale(1.055 1)" font-size="13.0" text-anchor="middle" >Correlogram</text>
</svg>
</body></html>
